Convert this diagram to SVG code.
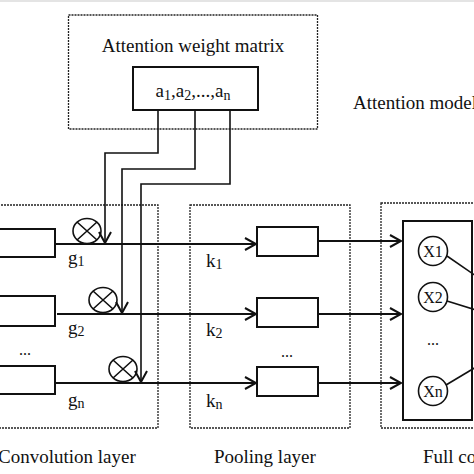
<svg xmlns="http://www.w3.org/2000/svg" width="474" height="474" viewBox="0 0 474 474">
<defs>
<marker id="arr" markerWidth="14" markerHeight="14" refX="12" refY="7" orient="auto" markerUnits="userSpaceOnUse">
<path d="M1,1 L12,7 L1,13" fill="none" stroke="#111" stroke-width="2"/>
</marker>
<style>
text{font-family:"Liberation Serif","Times New Roman",serif;fill:#111}
.dash{fill:none;stroke:#222;stroke-width:1.3;stroke-dasharray:2 1}
.box{fill:#fff;stroke:#111;stroke-width:2}
.ln{fill:none;stroke:#111;stroke-width:2}
.thin{fill:none;stroke:#111;stroke-width:1.6}
.lbl{font-size:19px}
.sub{font-size:14px}
</style>
</defs>
<rect x="0" y="0" width="474" height="474" fill="#fff"/>
<rect x="0" y="0" width="474" height="2" fill="#e4e4e4"/>

<g id="attention">
<rect class="dash" x="68.5" y="15" width="249" height="114"/>
<text class="lbl" x="193" y="52" text-anchor="middle">Attention weight matrix</text>
<rect class="box" x="133" y="67" width="125" height="43"/>
<text x="193" y="97" text-anchor="middle" font-size="19">a<tspan class="sub" dy="3">1</tspan><tspan dy="-3">,a</tspan><tspan class="sub" dy="3">2</tspan><tspan dy="-3">,...,a</tspan><tspan class="sub" dy="3">n</tspan></text>
<text class="lbl" x="353" y="109">Attention model</text>
</g>

<g id="convolution">
<rect class="dash" x="-5" y="205" width="163" height="223"/>
<rect class="box" x="-5" y="229" width="60" height="28"/>
<rect class="box" x="-5" y="296" width="60" height="30"/>
<rect class="box" x="-5" y="366" width="60" height="28"/>
<text x="25" y="355" text-anchor="middle" font-size="16">...</text>
<text class="lbl" x="68" y="264">g<tspan class="sub" dy="2">1</tspan></text>
<text class="lbl" x="68" y="334">g<tspan class="sub" dy="2">2</tspan></text>
<text class="lbl" x="68" y="406">g<tspan class="sub" dy="2">n</tspan></text>
<text class="lbl" x="-2" y="463">Convolution layer</text>
</g>

<g id="multipliers">
<g id="mul1"><ellipse class="thin" cx="87" cy="231" rx="14" ry="12.5"/><path class="thin" d="M77,222 L97,240 M97,222 L77,240"/></g>
<g id="mul2"><ellipse class="thin" cx="103" cy="300" rx="14" ry="12.5"/><path class="thin" d="M93,291 L113,309 M113,291 L93,309"/></g>
<g id="mul3"><ellipse class="thin" cx="123" cy="369" rx="14" ry="12.5"/><path class="thin" d="M113,360 L133,378 M133,360 L113,378"/></g>
</g>

<g id="pooling">
<rect class="dash" x="190" y="205" width="160" height="223"/>
<rect class="box" x="257" y="227" width="61" height="29"/>
<rect class="box" x="257" y="298" width="61" height="29"/>
<rect class="box" x="257" y="367" width="61" height="29"/>
<text x="287" y="357" text-anchor="middle" font-size="16">...</text>
<text class="lbl" x="206" y="267">k<tspan class="sub" dy="2">1</tspan></text>
<text class="lbl" x="206" y="336">k<tspan class="sub" dy="2">2</tspan></text>
<text class="lbl" x="206" y="407">k<tspan class="sub" dy="2">n</tspan></text>
<text class="lbl" x="214" y="463">Pooling layer</text>
</g>

<g id="fullconn">
<rect class="dash" x="381" y="203" width="100" height="225"/>
<rect class="box" x="403" y="221" width="69" height="199"/>
<circle class="thin" cx="433" cy="251" r="14.5"/>
<text x="433" y="257" text-anchor="middle" font-size="16">X1</text>
<circle class="thin" cx="433" cy="297" r="14.5"/>
<text x="433" y="303" text-anchor="middle" font-size="16">X2</text>
<text x="433" y="345" text-anchor="middle" font-size="16">...</text>
<circle class="thin" cx="433" cy="391" r="14.5"/>
<text x="433" y="397" text-anchor="middle" font-size="16">Xn</text>
<text class="lbl" x="423" y="463">Full connected layer</text>
</g>

<g id="connectors">
<path class="thin" d="M158,110 V153 H105 V243" marker-end="url(#arr)"/>
<path class="thin" d="M195,110 V169 H122 V313" marker-end="url(#arr)"/>
<path class="thin" d="M230,110 V184 H141 V382" marker-end="url(#arr)"/>
<path class="ln" d="M55,244 H256" marker-end="url(#arr)"/>
<path class="ln" d="M57,314 H256" marker-end="url(#arr)"/>
<path class="ln" d="M55,383 H256" marker-end="url(#arr)"/>
<path class="ln" d="M318,241 H401" marker-end="url(#arr)"/>
<path class="ln" d="M318,314 H401" marker-end="url(#arr)"/>
<path class="ln" d="M318,383 H401" marker-end="url(#arr)"/>
<path class="thin" d="M447,256 L476,276"/>
<path class="thin" d="M447,301 L476,310"/>
<path class="thin" d="M446,385 L476,367"/>
</g>
</svg>
